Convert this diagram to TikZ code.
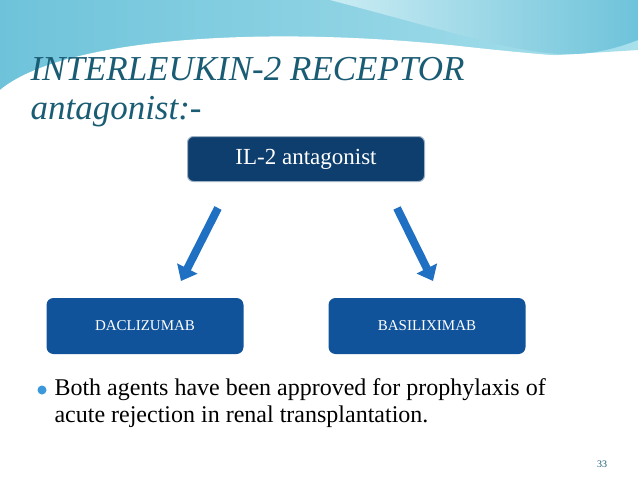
\documentclass[tikz,border=0pt]{standalone}
\usepackage{fontspec}
\setmainfont{Liberation Serif}
\usetikzlibrary{arrows.meta}
\definecolor{titlec}{HTML}{1A5C73}
\definecolor{navy}{HTML}{0E3E6E}
\definecolor{boxb}{HTML}{11539A}
\definecolor{arr}{HTML}{1F6FC2}
\definecolor{wave1}{HTML}{6EC3DA}
\definecolor{wave2}{HTML}{A8E0EC}
\begin{document}
\begin{tikzpicture}[x=1pt,y=-1pt,
  topbox/.style={draw=white!60!navy,line width=1pt,fill=navy,rounded corners=6pt,text=white,minimum width=237pt,minimum height=45pt,font=\fontsize{23}{26}\selectfont},
  drugbox/.style={fill=boxb,rounded corners=7pt,text=white,minimum width=197pt,minimum height=56pt,font=\fontsize{15}{17}\selectfont},
  blockarrow/.style={draw=arr!80!black,line width=8pt,-{Triangle[length=14pt,width=22pt]},arr}]
\useasboundingbox (0,0) rectangle (638,479);
\fill[white] (0,0) rectangle (638,479);
% waves
\shade[left color=wave1,right color=wave2] (0,0) -- (638,0) -- (638,50) -- (0,90) -- cycle;
\fill[white] (0,90) .. controls (60,40) and (250,25) .. (450,45) .. controls (540,55) and (600,60) .. (638,58) -- (638,479) -- (0,479) -- cycle;
\shade[left color=wave2!60,right color=wave1] (330,0) -- (638,0) -- (638,40) .. controls (560,70) and (520,50) .. (330,0) -- cycle;
\node[anchor=west,text=titlec,font=\itshape\fontsize{35}{38}\selectfont] (t1) at (27,69) {INTERLEUKIN-2 RECEPTOR};
\node[anchor=west,text=titlec,font=\itshape\fontsize{35}{38}\selectfont] (t2) at (27,112) {antagonist:-};
\node[topbox] (il) at (306,159) {IL-2 antagonist};
\node[drugbox] (d) at (145,326) {DACLIZUMAB};
\node[drugbox] (b) at (427,326) {BASILIXIMAB};
\coordinate (a1s) at (218,208); \coordinate (a1e) at (181,281);
\coordinate (a2s) at (397,208); \coordinate (a2e) at (433,281);
\draw[blockarrow] (a1s) -- (a1e);
\draw[blockarrow] (a2s) -- (a2e);
\fill[cyan!70!blue!80] (42,390) circle (4.5pt);
\node[anchor=west,align=left,font=\fontsize{24}{27}\selectfont] (txt) at (51,403) {Both agents have been approved for prophylaxis of\\acute rejection in renal transplantation.};
\node[font=\fontsize{10}{11}\selectfont,text=titlec] (pg) at (602,464) {33};
\end{tikzpicture}
\end{document}
